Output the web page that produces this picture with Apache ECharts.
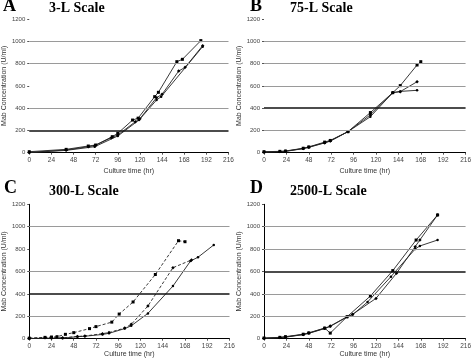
<!DOCTYPE html>
<html><head><meta charset="utf-8">
<script src="https://cdn.jsdelivr.net/npm/echarts@6/dist/echarts.min.js"></script>
<style>html,body{margin:0;padding:0;background:#fff}#c{width:474px;height:361px}</style>
</head><body><div id="c"></div>
<script>
// Tick labels
var xTicks = [0,24,48,72,96,120,144,168,192,216];
var yTicks = [0,200,400,600,800,1000,1200];
var xName = 'Culture time (hr)';
var yName = 'Mab Concentration (U/ml)';
var panelLetters = ['A','B','C','D'];
var panelTitles = ['3-L Scale','75-L Scale','300-L Scale','2500-L Scale'];

// Panel A (3-L)
var aTime1 = [0,40,64,72,90,96,112,118,136,140,160,166,186];
var aVal1  = [9,30,60,69,144,174,293,310,503,542,817,838,1006];
var aTime2 = [0,40,64,71,89,96,115,120,138,144,162,169,188];
var aVal2  = [3,24,54,63,135,159,278,305,494,524,733,766,961];
var aTime3 = [0,40,71,96,119,138,143,188];
var aVal3  = [0,21,54,150,293,473,503,952];
var aGrid = [200,400,800,1000];
var aBold = 200;

// Panel B (75-L)
var bTime1 = [0,17,23,42,48,65,71,90,114,138,146,164,168];
var bVal1  = [9,12,15,40,52,95,110,189,360,539,602,787,817];
var bTime2 = [0,17,23,42,48,65,71,90,114,138,146,164];
var bVal2  = [6,10,13,38,50,90,106,189,340,539,548,637];
var bTime3 = [0,23,42,48,65,71,90,114,138,146,164];
var bVal3  = [5,12,36,48,88,104,189,323,539,550,560];
var bGrid = [200,400,600,800,1000];
var bBold = 400;

// Panel C (300-L)
var cTime1 = [0,17,24,30,39,48,65,72,89,97,112,136,161,168];
var cVal1  = [5,12,15,18,39,54,90,108,148,220,328,573,875,866];
var cTime2 = [0,17,24,36,52,60,79,86,103,110,128,155,175];
var cVal2  = [3,8,10,8,20,24,45,55,95,128,292,634,703];
var cTime3 = [0,24,36,52,60,79,86,103,110,128,155,174,182,199];
var cVal3  = [2,5,5,18,22,38,48,90,115,226,470,694,727,837];
var cGrid = [200,400,600,1000];
var cBold = 400;

// Panel D (2500-L)
var dTime1 = [0,17,23,42,48,65,71,89,114,138,163,186];
var dVal1  = [6,12,18,40,52,95,50,196,381,608,881,1105];
var dTime2 = [0,17,23,42,48,65,71,89,95,120,142,162,167,186];
var dVal2  = [4,10,15,38,50,93,113,196,218,360,584,822,881,1105];
var dTime3 = [0,17,23,42,48,65,71,89,95,111,136,162,167,186];
var dVal3  = [3,9,14,36,48,90,110,194,215,328,554,801,828,881];
var dGrid = [200,400,600,800,1000];
var dBold = 600;

function pairs(t, v){ return t.map(function(x,i){ return [x, v[i]]; }); }

var panels = [
  {series:[[aTime1,aVal1],[aTime2,aVal2],[aTime3,aVal3]], grid:aGrid, bold:aBold,
   box:{left:24, top:19, width:204.5, height:133.7}, yLine:false, nameGap:15, dash:[false,false,false]},
  {series:[[bTime1,bVal1],[bTime2,bVal2],[bTime3,bVal3]], grid:bGrid, bold:bBold,
   box:{left:264, top:19, width:202, height:133.7}, yLine:false, nameGap:15, dash:[false,false,false]},
  {series:[[cTime1,cVal1],[cTime2,cVal2],[cTime3,cVal3]], grid:cGrid, bold:cBold,
   box:{left:23.5, top:204.3, width:206, height:134.4}, yLine:true, nameGap:9, dash:[true,true,false]},
  {series:[[dTime1,dVal1],[dTime2,dVal2],[dTime3,dVal3]], grid:dGrid, bold:dBold,
   box:{left:264, top:204.3, width:203, height:134.4}, yLine:true, nameGap:9, dash:[false,false,false]}
];
var letterPos = [[3,-3],[250,-3],[4,179],[250,179]];
var titlePos = [[49,1],[290,1],[49,184],[290,184]];

var symbols = ['rect','diamond','circle'];
var symSizes = [3,3.5,2.5];

var option = {animation:false, backgroundColor:'#fff', title:[], grid:[], xAxis:[], yAxis:[], series:[]};

panels.forEach(function(p, i){
  option.title.push({text:panelLetters[i], left:letterPos[i][0], top:letterPos[i][1], padding:0,
    textStyle:{fontFamily:'Liberation Serif', fontWeight:'bold', fontSize:18, color:'#000'}});
  option.title.push({text:panelTitles[i], left:titlePos[i][0], top:titlePos[i][1], padding:0,
    textStyle:{fontFamily:'Liberation Serif', fontWeight:'bold', fontSize:14, color:'#000'}});
  option.grid.push({left:p.box.left, top:p.box.top, width:p.box.width, height:p.box.height, containLabel:false});
  option.xAxis.push({type:'value', gridIndex:i, min:xTicks[0], max:xTicks[xTicks.length-1], interval:24,
    name:xName, nameLocation:'middle', nameGap:p.nameGap,
    nameTextStyle:{fontFamily:'Liberation Sans', fontSize:7, color:'#333'},
    axisLine:{show:true, onZero:false, lineStyle:{color:'#000', width:1}},
    axisTick:{show:true, length:2, lineStyle:{color:'#555'}},
    axisLabel:{fontFamily:'Liberation Sans', fontSize:6.5, color:'#444', margin:4,
      formatter:function(v){ return String(v); }},
    splitLine:{show:false}});
  option.yAxis.push({type:'value', gridIndex:i, min:yTicks[0], max:yTicks[yTicks.length-1], interval:200,
    name:yName, nameLocation:'middle', nameGap:16, nameRotate:90,
    nameTextStyle:{fontFamily:'Liberation Sans', fontSize:7, color:'#333'},
    axisLine:{show:p.yLine, lineStyle:{color:'#000', width:1}},
    axisTick:{show:true, length:2, lineStyle:{color:'#555'}},
    axisLabel:{fontFamily:'Liberation Sans', fontSize:6, color:'#444', margin:4,
      formatter:function(v){ return String(v); }},
    splitLine:{show:false}});
  option.series.push({type:'line', xAxisIndex:i, yAxisIndex:i, data:[], z:1, silent:true,
    markLine:{silent:true, symbol:'none', label:{show:false}, animation:false,
      data:p.grid.map(function(v){ return {yAxis:v, lineStyle:{type:'solid',
        color: v===p.bold ? '#111' : '#9a9a9a', width: v===p.bold ? 1.6 : 1}}; })}});
  p.series.forEach(function(s, k){
    option.series.push({type:'line', xAxisIndex:i, yAxisIndex:i, z:3,
      data:pairs(s[0], s[1]),
      symbol:symbols[k], symbolSize:symSizes[k], showSymbol:true,
      lineStyle:{color:'#222', width:0.9, type:p.dash[k]?[3,2]:'solid'},
      itemStyle:{color:'#000'}});
  });
});

var chart = echarts.init(document.getElementById('c'), null, {renderer:'canvas'});
chart.setOption(option);
</script>
</body></html>
